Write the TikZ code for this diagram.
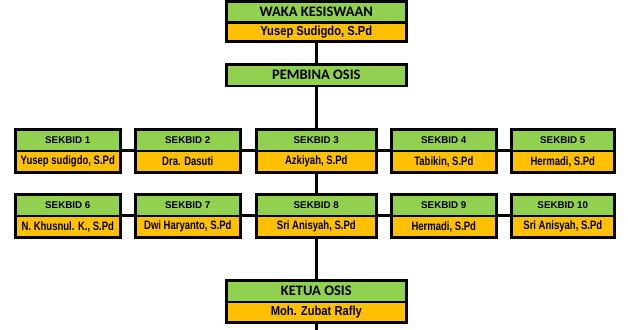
\documentclass[tikz,border=0pt]{standalone}
\usepackage{fontspec}
\setmainfont{Liberation Sans}
\newfontfamily\calf{Carlito}
\newfontfamily\narf[FakeStretch=0.78]{Liberation Sans}
\newfontfamily\narhf[FakeStretch=0.86]{Liberation Sans}
\definecolor{hgreen}{HTML}{92D050}
\definecolor{horange}{HTML}{FFC000}
\begin{document}
\begin{tikzpicture}[x=1pt,y=-1pt,
  part/.style={draw=black,line width=2.6pt,inner sep=0pt,outer sep=0pt,anchor=north west},
  gpart/.style={part,fill=hgreen},
  opart/.style={part,fill=horange},
  headtxt/.style={font=\calf\bfseries\fontsize{14.5}{15}\selectfont},
  headname/.style={font=\narhf\bfseries\fontsize{13}{14}\selectfont},
  sektxt/.style={font=\bfseries\fontsize{9.8}{10}\selectfont},
  nametxt/.style={font=\narf\bfseries\fontsize{12.2}{13}\selectfont},
  conn/.style={draw=black,line width=3pt}]
\useasboundingbox (0,0) rectangle (628,329);
\fill[white] (0,0) rectangle (628,329);
% top
\node[gpart,headtxt,minimum width=180pt,minimum height=21pt] (wakag) at (226.3,1.3) {WAKA KESISWAAN};
\node[opart,headname,minimum width=180pt,minimum height=19.5pt] (wakao) at (wakag.south west) {Yusep Sudigdo, S.Pd};
\node[gpart,headtxt,minimum width=180pt,minimum height=21.5pt] (pemb) at (226.3,64.3) {PEMBINA OSIS};
% row 1
\foreach \n/\x/\w/\t/\p in {1/15.3/105/SEKBID 1/{Yusep sudigdo, S.Pd},
  2/135.3/105/SEKBID 2/{Dra. Dasuti},
  3/256.3/120/SEKBID 3/{Azkiyah, S.Pd},
  4/391.3/105/SEKBID 4/{Tabikin, S.Pd},
  5/511.3/103/SEKBID 5/{Hermadi, S.Pd}}{
  \node[gpart,sektxt,minimum width=\w pt,minimum height=21.5pt] (g\n) at (\x,129.3) {\t};
  \node[opart,nametxt,minimum width=\w pt,minimum height=21.5pt] (o\n) at (g\n.south west) {\p};
}
% row 2
\foreach \n/\x/\w/\t/\p in {6/15.3/105/SEKBID 6/{N. Khusnul. K., S.Pd},
  7/135.3/105/SEKBID 7/{Dwi Haryanto, S.Pd},
  8/256.3/120/SEKBID 8/{Sri Anisyah, S.Pd},
  9/391.3/105/SEKBID 9/{Hermadi, S.Pd},
  10/511.3/103/SEKBID 10/{Sri Anisyah, S.Pd}}{
  \node[gpart,sektxt,minimum width=\w pt,minimum height=21.5pt] (g\n) at (\x,194.3) {\t};
  \node[opart,nametxt,minimum width=\w pt,minimum height=21.5pt] (o\n) at (g\n.south west) {\p};
}
% ketua
\node[gpart,headtxt,minimum width=180pt,minimum height=21.5pt] (ketg) at (226.3,280.3) {KETUA OSIS};
\node[opart,headname,minimum width=180pt,minimum height=20.5pt] (keto) at (ketg.south west) {Moh. Zubat Rafly};
\coordinate (bottom) at (keto.south |- 0,330);
% connectors
\draw[conn] (wakao.south) -- (pemb.north);
\draw[conn] (pemb.south) -- (g3.north);
\draw[conn] (o3.south) -- (g8.north);
\draw[conn] (o8.south) -- (ketg.north);
\draw[conn] (keto.south) -- (bottom);
\draw[conn] (o1.north east) -- (o2.north west);
\draw[conn] (o2.north east) -- (o3.north west);
\draw[conn] (o3.north east) -- (o4.north west);
\draw[conn] (o4.north east) -- (o5.north west);
\draw[conn] (o6.north east) -- (o7.north west);
\draw[conn] (o7.north east) -- (o8.north west);
\draw[conn] (o8.north east) -- (o9.north west);
\draw[conn] (o9.north east) -- (o10.north west);
\end{tikzpicture}
\end{document}
